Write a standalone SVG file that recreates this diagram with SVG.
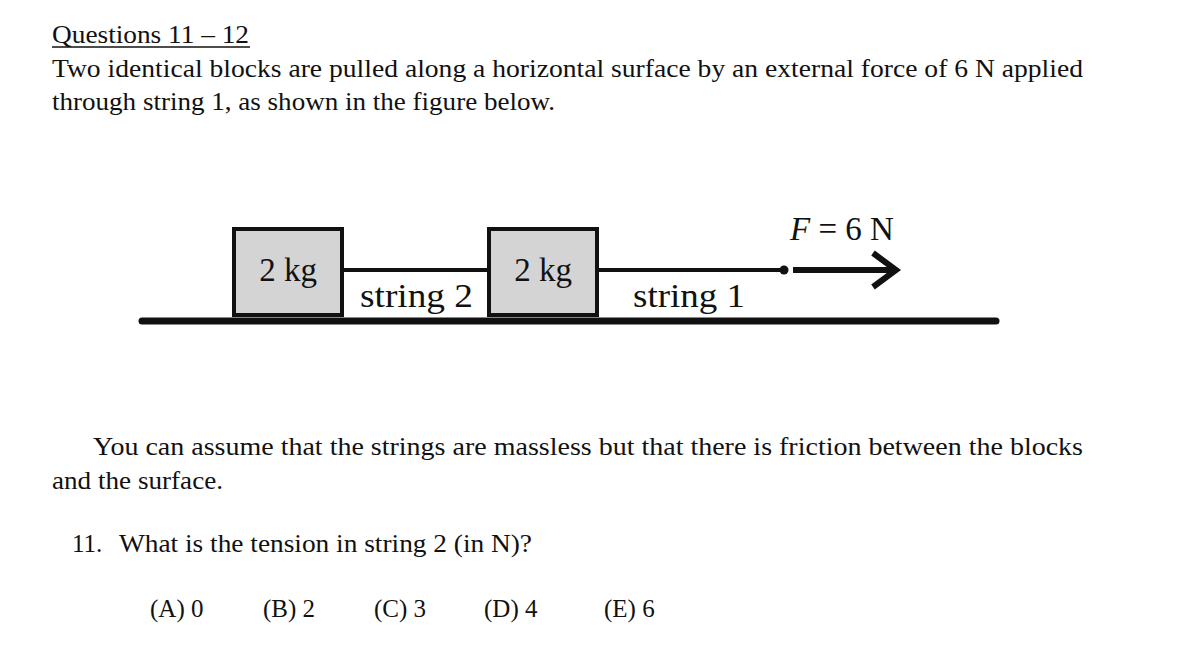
<svg xmlns="http://www.w3.org/2000/svg" width="1200" height="655" viewBox="0 0 1200 655">
<style>
text{font-family:"Liberation Serif",serif;fill:#111}
.b{font-size:25px}
.f{font-size:33px}
.blk{fill:#d4d4d4;stroke:#111;stroke-width:4}
.ln{stroke:#111;fill:none}
</style>
<rect width="1200" height="655" fill="#fff"/>
<text class="b" x="52" y="43" textLength="197" lengthAdjust="spacingAndGlyphs">Questions 11 – 12</text>
<line class="ln" x1="52" y1="47" x2="250" y2="47" stroke-width="1.5"/>
<text class="b" x="52" y="77" textLength="1031" lengthAdjust="spacingAndGlyphs">Two identical blocks are pulled along a horizontal surface by an external force of 6 N applied</text>
<text class="b" x="52" y="110" textLength="503" lengthAdjust="spacingAndGlyphs">through string 1, as shown in the figure below.</text>
<g id="connectors">
<line class="ln" x1="142" y1="321" x2="996" y2="321" stroke-width="7" stroke-linecap="round"/>
<line class="ln" x1="343" y1="270" x2="488" y2="270" stroke-width="4"/>
<line class="ln" x1="597" y1="270" x2="783" y2="270" stroke-width="4"/>
<circle cx="784" cy="270" r="4.5" fill="#111"/>
<line class="ln" x1="793" y1="270" x2="896" y2="270" stroke-width="6"/>
<polyline class="ln" points="873,253 896,270 873,287" stroke-width="6"/>
</g>
<g id="block1"><rect class="blk" x="234" y="229" width="108" height="86"/><text class="f" x="288" y="281" text-anchor="middle">2 kg</text></g>
<g id="block2"><rect class="blk" x="489" y="229" width="108" height="86"/><text class="f" x="543" y="281" text-anchor="middle">2 kg</text></g>
<text class="f" x="360" y="307" textLength="113" lengthAdjust="spacingAndGlyphs">string 2</text>
<text class="f" x="633" y="307" textLength="112" lengthAdjust="spacingAndGlyphs">string 1</text>
<text class="f" x="790" y="240"><tspan font-style="italic">F</tspan> = 6 N</text>
<text class="b" x="93" y="455" textLength="990" lengthAdjust="spacingAndGlyphs">You can assume that the strings are massless but that there is friction between the blocks</text>
<text class="b" x="52" y="489" textLength="171" lengthAdjust="spacingAndGlyphs">and the surface.</text>
<text class="b" x="72" y="552">11.</text>
<text class="b" x="119" y="552" textLength="413" lengthAdjust="spacingAndGlyphs">What is the tension in string 2 (in N)?</text>
<text class="b" x="150" y="617">(A) 0</text>
<text class="b" x="263" y="617">(B) 2</text>
<text class="b" x="374" y="617">(C) 3</text>
<text class="b" x="484" y="617">(D) 4</text>
<text class="b" x="604" y="617">(E) 6</text>
</svg>
